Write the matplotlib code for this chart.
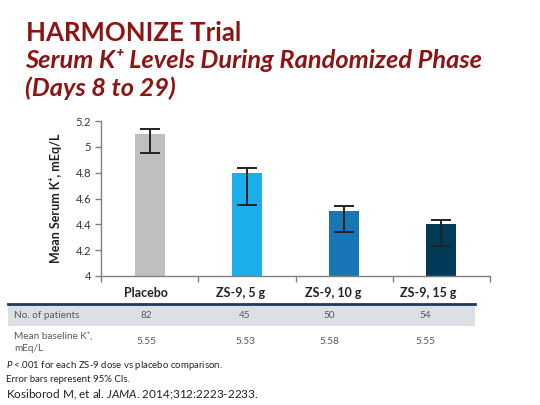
import matplotlib
matplotlib.use("Agg")
import matplotlib.pyplot as plt
from matplotlib.patches import Rectangle
from matplotlib.lines import Line2D

plt.rcParams["font.family"] = ["Lato", "DejaVu Sans"]
plt.rcParams["mathtext.fontset"] = "custom"
plt.rcParams["mathtext.rm"] = "Lato"
plt.rcParams["mathtext.it"] = "Lato:italic"
plt.rcParams["mathtext.bf"] = "Lato:bold"

# data
groups = ["Placebo", "ZS-9, 5 g", "ZS-9, 10 g", "ZS-9, 15 g"]
mean_k = [5.10, 4.80, 4.50, 4.40]
ci_low = [4.95, 4.55, 4.34, 4.23]
ci_high = [5.14, 4.84, 4.545, 4.435]
n_patients = ["82", "45", "50", "54"]
baseline_k = ["5.55", "5.53", "5.58", "5.55"]
bar_colors = ["#BFBFBF", "#1AAEEA", "#1876B6", "#023A5A"]
yticks = [4, 4.2, 4.4, 4.6, 4.8, 5, 5.2]
ytick_labels = ["4", "4.2", "4.4", "4.6", "4.8", "5", "5.2"]

TITLE = "#8E1414"
W, H = 540, 405

fig = plt.figure(figsize=(5.4, 4.05), dpi=100)


def fx(px):
    return px / W


def fy(py):
    return 1 - py / H


# title block
fig.text(fx(26), fy(41), "HARMONIZE Trial", color=TITLE, fontsize=18.5,
         fontweight="bold", ha="left", va="baseline")
fig.text(fx(25), fy(68), "Serum K\u207a Levels During Randomized Phase", color=TITLE,
         fontsize=18.3, fontweight="bold", style="italic", ha="left", va="baseline")
fig.text(fx(25), fy(96), "(Days 8 to 29)", color=TITLE, fontsize=18.3,
         fontweight="bold", style="italic", ha="left", va="baseline")

# bar chart
ax = fig.add_axes([fx(101), fy(276), fx(490) - fx(101), fy(121) - fy(276)])
x = range(len(groups))
yerr = [[m - lo for m, lo in zip(mean_k, ci_low)],
        [hi - m for m, hi in zip(mean_k, ci_high)]]
ax.bar(x, [m - 4 for m in mean_k], bottom=4, width=0.31, color=bar_colors, zorder=2)
ax.errorbar(x, mean_k, yerr=yerr, fmt="none", ecolor="#222222", elinewidth=1.4,
            capsize=7, capthick=1.4, zorder=3)
ax.set_xlim(-0.5, len(groups) - 0.5)
ax.set_ylim(4, 5.2)
ax.set_yticks(yticks)
ax.set_yticklabels(ytick_labels)
ax.set_xticks([i - 0.5 for i in range(len(groups) + 1)])
ax.set_xticklabels([])
for s in ["top", "right"]:
    ax.spines[s].set_visible(False)
for s in ["left", "bottom"]:
    ax.spines[s].set_color("#808080")
    ax.spines[s].set_linewidth(1.0)
ax.tick_params(axis="both", color="#808080", length=4, width=1.0,
               labelsize=8, labelcolor="#333333", pad=3)
ax.set_ylabel("Mean Serum K\u207a, mEq/L", fontsize=9, fontweight="bold",
              color="#222222", labelpad=10)

# table below
col_px = [146, 241, 333, 428]
for cx, g in zip(col_px, groups):
    fig.text(fx(cx), fy(293), g, fontsize=9, fontweight="bold", color="#222222",
             ha="center", va="center")
fig.add_artist(Rectangle((fx(8), fy(326)), fx(475) - fx(8), fy(305) - fy(326),
                         transform=fig.transFigure, facecolor="#DCDFE3",
                         edgecolor="none"))
fig.add_artist(Line2D([fx(8), fx(475)], [fy(304), fy(304)], transform=fig.transFigure,
                      color="#1F3A5C", lw=2.0))
fig.text(fx(14), fy(315.5), "No. of patients", fontsize=7.2, color="#595959",
         ha="left", va="center")
fig.text(fx(14), fy(342), "Mean baseline K\u207a,\nmEq/L", fontsize=7.2, color="#595959",
         ha="left", va="center", linespacing=1.5)
for cx, n, b in zip([146, 245, 329, 425], n_patients, baseline_k):
    fig.text(fx(cx), fy(315.5), n, fontsize=7.2, color="#595959", ha="center", va="center")
    fig.text(fx(cx), fy(342), b, fontsize=7.2, color="#595959", ha="center", va="center")

# footnotes
fig.text(fx(6), fy(366), r"$\mathit{P}$ <.001 for each ZS-9 dose vs placebo comparison.",
         fontsize=6.9, color="#222222", ha="left", va="center")
fig.text(fx(6), fy(379), "Error bars represent 95% CIs.", fontsize=6.9,
         color="#222222", ha="left", va="center")
fig.text(fx(6), fy(395), r"Kosiborod M, et al. $\mathit{JAMA}$. 2014;312:2223-2233.",
         fontsize=8.5, color="#222222", ha="left", va="center")

fig.savefig("out.png", dpi=100)
